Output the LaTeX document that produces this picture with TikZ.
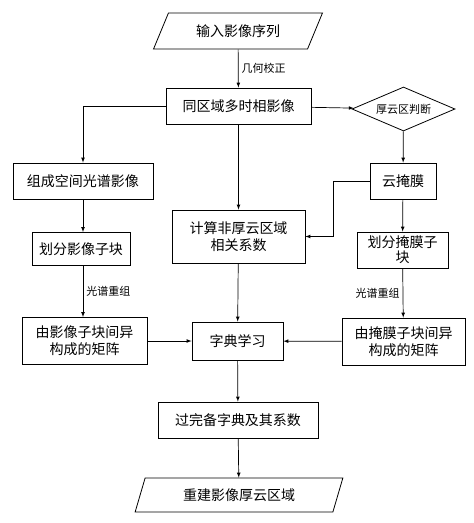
\documentclass[tikz,border=0pt]{standalone}
\usepackage{fontspec}
\newfontfamily\cjk{Noto Sans CJK SC}
\usetikzlibrary{shapes.geometric}

\tikzset{
  box/.style={draw,line width=0.8pt,align=center,inner sep=2pt,
    font=\cjk\fontsize{14}{17}\selectfont},
  para/.style={box,trapezium,trapezium stretches=true},
  lab/.style={font=\cjk\fontsize{11}{13}\selectfont,inner sep=3pt},
  flow/.style={->,>=latex,line width=0.7pt}
}

\begin{document}
\begin{tikzpicture}[x=1pt,y=-1pt]
  \useasboundingbox (0,0) rectangle (474,523);
  \node (input) [para,trapezium left angle=61,trapezium right angle=119,
    minimum width=169pt,minimum height=36pt] at (238,31) {输入影像序列};
  \node (multi) [box,minimum width=145pt,minimum height=36pt] at (238.5,106) {同区域多时相影像};
  \node (detect) [box,diamond,aspect=2.3,minimum width=103pt,minimum height=44pt,inner sep=0pt,
    font=\cjk\fontsize{11}{13}\selectfont] at (403.5,109) {厚云区判断};
  \node (spec) [box,minimum width=140pt,minimum height=36pt] at (83,181) {组成空间光谱影像};
  \node (sub) [box,minimum width=98pt,minimum height=33pt] at (81,249) {划分影像子块};
  \node (hetero) [box,minimum width=125pt,minimum height=47pt] at (84.5,341) {由影像子块间异\\构成的矩阵};
  \node (corr) [box,minimum width=133pt,minimum height=53pt] at (238.5,236.5) {计算非厚云区域\\相关系数};
  \node (mask) [box,minimum width=66pt,minimum height=36pt] at (403,181) {云掩膜};
  \node (masksub) [box,minimum width=91pt,minimum height=36pt,inner sep=0pt,
    font=\cjk\fontsize{14}{15}\selectfont] at (402.5,250) {划分掩膜子\\块};
  \node (maskhet) [box,minimum width=123pt,minimum height=47pt] at (403.5,341.5) {由掩膜子块间异\\构成的矩阵};
  \node (dict) [box,minimum width=91pt,minimum height=38pt] at (237.5,341) {字典学习};
  \node (over) [box,minimum width=160pt,minimum height=36pt] at (238,420) {过完备字典及其系数};
  \node (out) [para,trapezium left angle=70,trapezium right angle=110,
    minimum width=208pt,minimum height=34pt] at (239,495) {重建影像厚云区域};
  \coordinate (bend) at (333,181);

  \draw [flow] (input) -- node [lab,right] {几何校正} (multi);
  \draw [flow] (multi) -- (detect);
  \draw [flow] (multi.west) -| (spec.north);
  \draw [flow] (spec) -- (spec.south |- sub.north);
  \draw [flow] (sub.south -| spec.south) -- node [lab,right] {光谱重组} (spec.south |- hetero.north);
  \draw [flow] (hetero) -- (dict);
  \draw [flow] (multi) -- (corr);
  \draw [flow] (corr) -- (dict);
  \draw [flow] (detect) -- (mask);
  \draw [flow] (mask.west) -- (bend) |- (corr.east);
  \draw [flow] (mask) -- (masksub);
  \draw [flow] (masksub) -- node [lab,left] {光谱重组} (maskhet);
  \draw [flow] (maskhet) -- (dict);
  \draw [flow] (dict) -- (over);
  \draw [flow] (over) -- (out);
\end{tikzpicture}
\end{document}
